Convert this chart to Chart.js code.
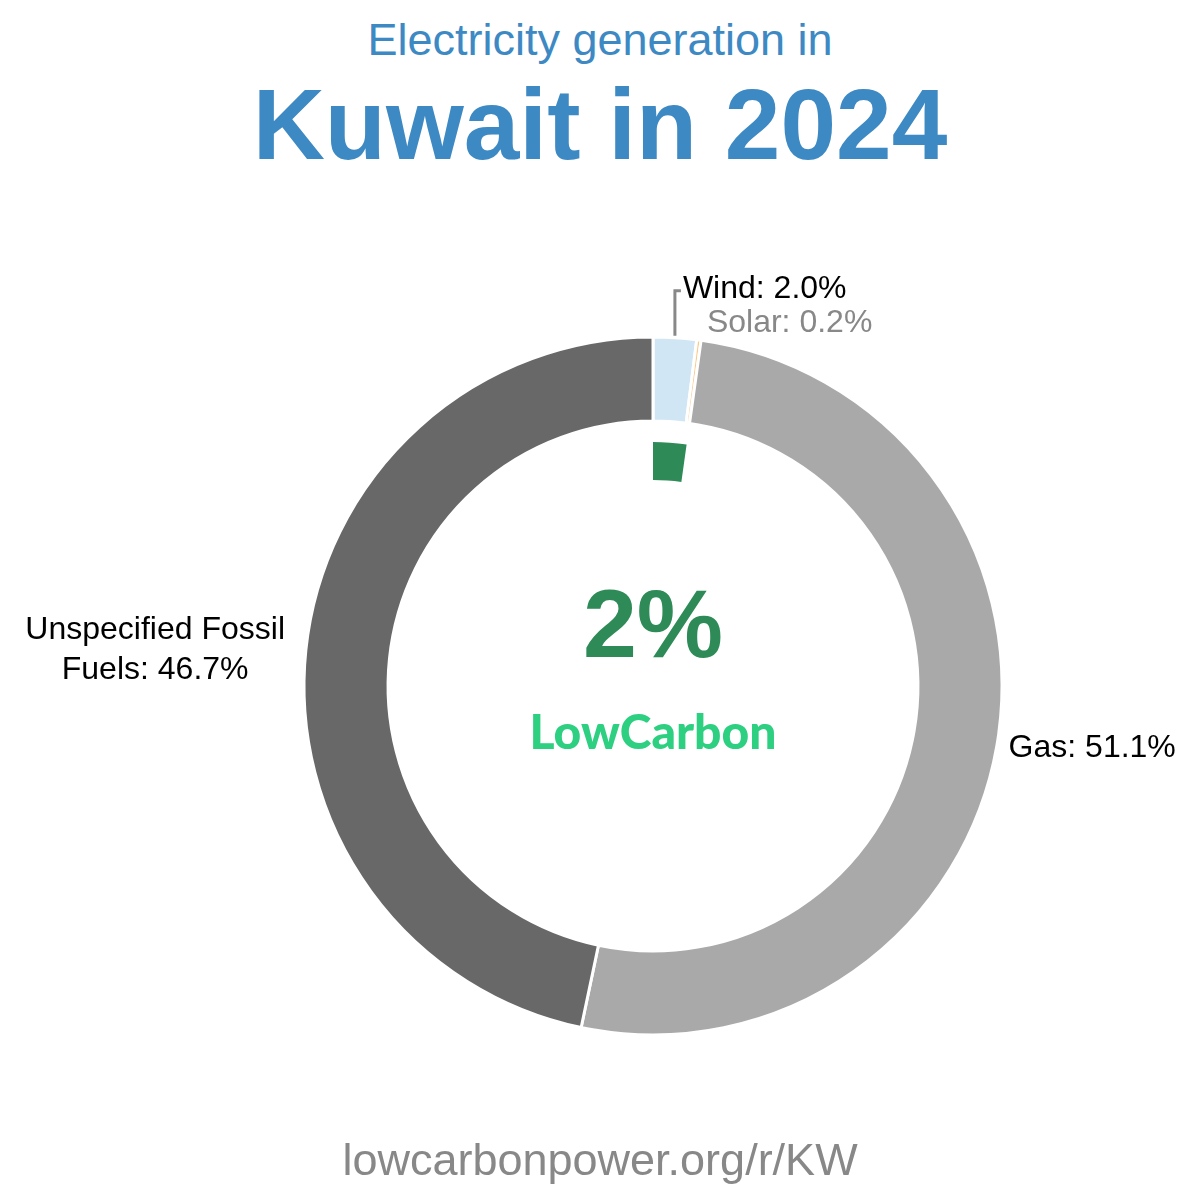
<!DOCTYPE html>
<html lang="en">
<head>
  <meta charset="UTF-8">
  <title>Electricity generation in Kuwait in 2024</title>
  <script src="https://cdn.jsdelivr.net/npm/chart.js"></script>
  <style>
    html, body { margin: 0; padding: 0; background: #fff; }
    body { width: 1200px; height: 1200px; position: relative; overflow: hidden;
           font-family: 'Liberation Sans', Arial, sans-serif; }
    .t { position: absolute; left: 0; width: 1200px; text-align: center; white-space: nowrap; }
    #sub { top: 14px; font-size: 45px; color: #3d89c3; line-height: 52px; }
    #main { top: 66px; font-size: 100px; font-weight: bold; color: #3d89c3; line-height: 116px; }
    #foot { top: 1134px; font-size: 45px; color: #888; line-height: 52px; }
    #wrap { position: absolute; left: 0; top: 0; width: 1200px; height: 1200px; }
  </style>
</head>
<body>
  <div class="t" id="sub">Electricity generation in</div>
  <div class="t" id="main">Kuwait in 2024</div>
  <div id="wrap"><canvas id="grafico" width="1200" height="1200"></canvas></div>
  <div class="t" id="foot">lowcarbonpower.org/r/KW</div>

  <script>
    // dados (ordem horária a partir do topo)
    const fontes = ['Wind', 'Solar', 'Gas', 'Unspecified Fossil Fuels'];
    const valores = [2.0, 0.2, 51.1, 46.7];
    const cores = ['#d0e6f5', '#f9c98a', '#a9a9a9', '#686868'];
    const corLabel = ['#000', '#888', '#000', '#000'];
    const baixoCarbono = ['Wind', 'Solar'];

    const totalBaixo = fontes.reduce((s, f, i) => baixoCarbono.includes(f) ? s + valores[i] : s, 0);
    const total = valores.reduce((a, b) => a + b, 0);

    const labelsPlugin = {
      id: 'labels',
      afterDraw(chart) {
        const ctx = chart.ctx;
        const meta = chart.getDatasetMeta(0);
        ctx.save();
        ctx.font = '32px "Liberation Sans", Arial, sans-serif';
        meta.data.forEach((arc, i) => {
          const a = (arc.startAngle + arc.endAngle) / 2;
          const R = arc.outerRadius;
          const txt = fontes[i] + ': ' + valores[i].toFixed(1) + '%';
          ctx.fillStyle = corLabel[i];
          ctx.textBaseline = 'middle';
          if (i === 0) {
            // linha guia
            const px = arc.x + R * Math.cos(a);
            const py = arc.y + R * Math.sin(a);
            ctx.strokeStyle = '#888';
            ctx.lineWidth = 3;
            ctx.beginPath();
            ctx.moveTo(px, py - 2);
            ctx.lineTo(px, py - 47);
            ctx.lineTo(px + 6, py - 47);
            ctx.stroke();
            ctx.textAlign = 'left';
            ctx.fillText(txt, px + 8, py - 49);
          } else if (i === 1) {
            const px = arc.x + R * Math.cos(a);
            const py = arc.y + R * Math.sin(a);
            ctx.textAlign = 'left';
            ctx.fillText(txt, px + 8, py - 17);
          } else if (i === 2) {
            ctx.textAlign = 'left';
            ctx.fillText(txt, arc.x + (R + 12) * Math.cos(a), arc.y + (R + 12) * Math.sin(a));
          } else {
            const linhas = ['Unspecified Fossil', 'Fuels: ' + valores[i].toFixed(1) + '%'];
            const rx = arc.x + (R + 21) * Math.cos(a);
            const ry = arc.y + (R + 21) * Math.sin(a) + 2;
            const w = Math.max(...linhas.map(l => ctx.measureText(l).width));
            ctx.textAlign = 'center';
            ctx.fillText(linhas[0], rx - w / 2, ry - 20);
            ctx.fillText(linhas[1], rx - w / 2, ry + 20);
          }
        });
        // texto central
        const cx = meta.data[0].x, cy = meta.data[0].y;
        ctx.textAlign = 'center';
        ctx.textBaseline = 'middle';
        ctx.fillStyle = '#2e8b57';
        ctx.font = 'bold 97px "Liberation Sans", Arial, sans-serif';
        ctx.fillText(Math.round(totalBaixo) + '%', cx, cy - 56);
        ctx.fillStyle = '#2dcf80';
        ctx.font = '900 48px Lato, sans-serif';
        ctx.fillText('LowCarbon', cx, cy + 48);
        ctx.restore();
      }
    };

    new Chart(document.getElementById('grafico'), {
      type: 'doughnut',
      data: {
        labels: fontes,
        datasets: [
          { data: valores, backgroundColor: cores, borderColor: '#fff', borderWidth: 3, weight: 84 },
          { data: [total], backgroundColor: 'rgba(0,0,0,0)', borderWidth: 0, weight: 21 },
          { data: [totalBaixo, total - totalBaixo], backgroundColor: ['#2e8b57', 'rgba(0,0,0,0)'],
            borderWidth: 0, weight: 38 }
        ]
      },
      plugins: [labelsPlugin],
      options: {
        responsive: false,
        animation: false,
        cutout: '59%',
        layout: { padding: { left: 302.5, right: 196.5, top: 335.5, bottom: 163.5 } },
        plugins: { legend: { display: false }, tooltip: { enabled: false } }
      }
    });
  </script>
</body>
</html>
